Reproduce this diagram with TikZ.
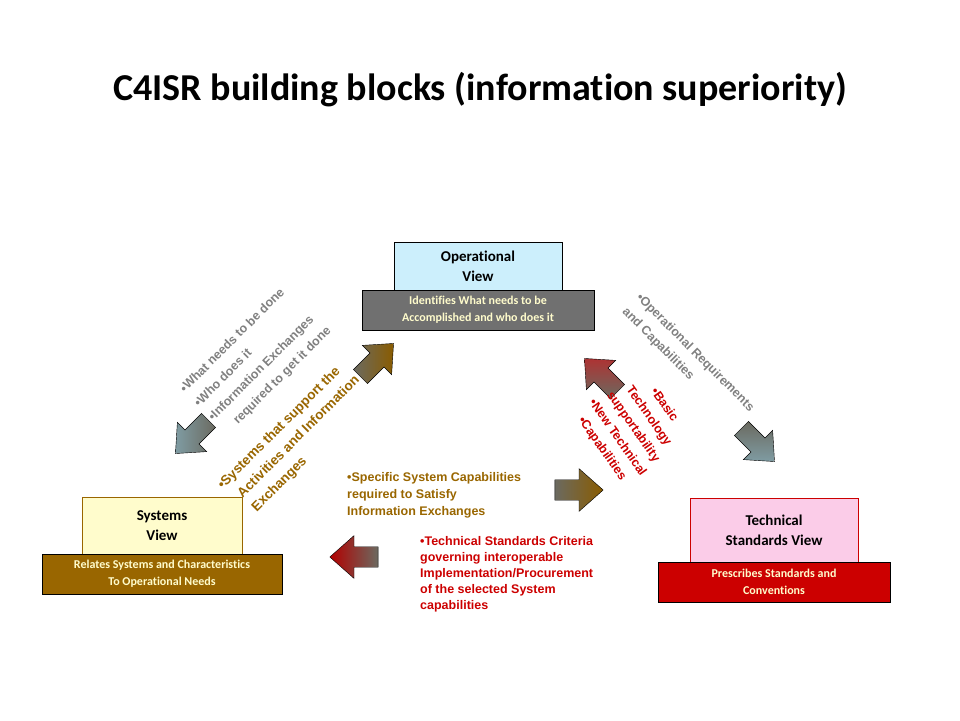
\documentclass[tikz,border=0pt]{standalone}
\usepackage{fontspec}
\setmainfont{Liberation Sans}
\newfontfamily\titlefont[Ligatures=NoCommon]{Carlito}
\definecolor{brownish}{HTML}{996600}
\definecolor{redish}{HTML}{CC0000}
\definecolor{grayish}{HTML}{808080}
\definecolor{darkgray}{HTML}{707070}
\definecolor{steel}{HTML}{7F9CA3}
\definecolor{olive}{HTML}{6B6A60}
\tikzset{
  viewbox/.style={draw, minimum width=#1, align=center, inner sep=0pt,
    font=\titlefont\bfseries\fontsize{15}{20}\selectfont},
  descbox/.style={draw, minimum width=#1, minimum height=40, align=center, inner sep=0pt,
    font=\titlefont\bfseries\fontsize{12}{17}\selectfont},
  note/.style={align=left, inner sep=0pt, font=\bfseries\fontsize{12.5}{17}\selectfont},
  tilted/.style={note, font=\bfseries\fontsize{12.5}{20}\selectfont},
  blockarrow/.pic={\path[draw=black, pic actions] (-26,-11) -- (0,-11) -- (0,-23)
      -- (26,0) -- (0,23) -- (0,11) -- (-26,11) -- cycle;}
}
\begin{document}
\begin{tikzpicture}[x=1pt,y=-1pt]
    \useasboundingbox (0,0) rectangle (960,720);
    % Title
    \node (title) at (480,90) {\titlefont\bfseries\fontsize{38}{44}\selectfont C4ISR building blocks (information superiority)};

    % Views
    \node[viewbox=168, minimum height=48, fill=cyan!20] (opview) at (478,266) {Operational\\View};
    \node[descbox=232, fill=darkgray, text=yellow!20] (opdesc) at (478,310) {Identifies What needs to be\\Accomplished and who does it};

    \node[viewbox=160, minimum height=57, fill=yellow!20, draw=brownish] (sysview) at (162,526) {Systems\\View};
    \node[descbox=240, fill=brownish, text=yellow!20] (sysdesc) at (162,574) {Relates Systems and Characteristics\\To Operational Needs};

    \node[viewbox=168, minimum height=64, fill=magenta!20, draw=redish] (techview) at (774,530) {Technical\\Standards View};
    \node[descbox=232, fill=redish, text=yellow!20] (techdesc) at (774,582) {Prescribes Standards and\\Conventions};

    % Arrows
    \pic[rotate=225, scale=0.9, left color=steel, right color=olive] at (192,437) {blockarrow};
    \pic[rotate=45, scale=0.9, left color=olive, right color=brownish!90!black] at (377,360) {blockarrow};
    \pic[rotate=135, scale=0.9, top color=red!60!black!80, bottom color=olive] at (601,375) {blockarrow};
    \pic[rotate=-45, scale=0.9, top color=olive, bottom color=steel] at (758,445) {blockarrow};
    \pic[scale=0.93, left color=olive, right color=brownish!90!black] at (579,490) {blockarrow};
    \pic[rotate=180, scale=0.93, left color=red!70!black, right color=olive] at (354,557) {blockarrow};

    % Labels
    \node[tilted, text=grayish, rotate=45] (whatnote) at (256,360) {•What needs to be done\\•Who does it\\•Information Exchanges\\\hspace{1.2em}required to get it done};
    \node[tilted, text=brownish, rotate=45, font=\bfseries\fontsize{13.5}{20}\selectfont] (sysnote) at (296,440) {•Systems that support the\\\hspace{0.6em}Activities and Information\\\hspace{0.6em}Exchanges};
    \node[tilted, text=grayish, rotate=-45] (opnote) at (688,360) {•Operational Requirements\\and Capabilities};
    \node[tilted, text=redish, rotate=-55, align=center, font=\bfseries\fontsize{12.5}{19}\selectfont] (basicnote) at (633,427) {•Basic\\Technology\\supportability\\•New Technical\\•Capabilities};
    \node[note, text=brownish, anchor=north west] (specnote) at (347,472) {•Specific System Capabilities\\required to Satisfy\\Information Exchanges};
    \node[note, text=redish, anchor=north west, font=\bfseries\fontsize{12.5}{16}\selectfont] (stdnote) at (420,536) {•Technical Standards Criteria\\governing interoperable\\Implementation/Procurement\\of the selected System\\capabilities};
\end{tikzpicture}
\end{document}
